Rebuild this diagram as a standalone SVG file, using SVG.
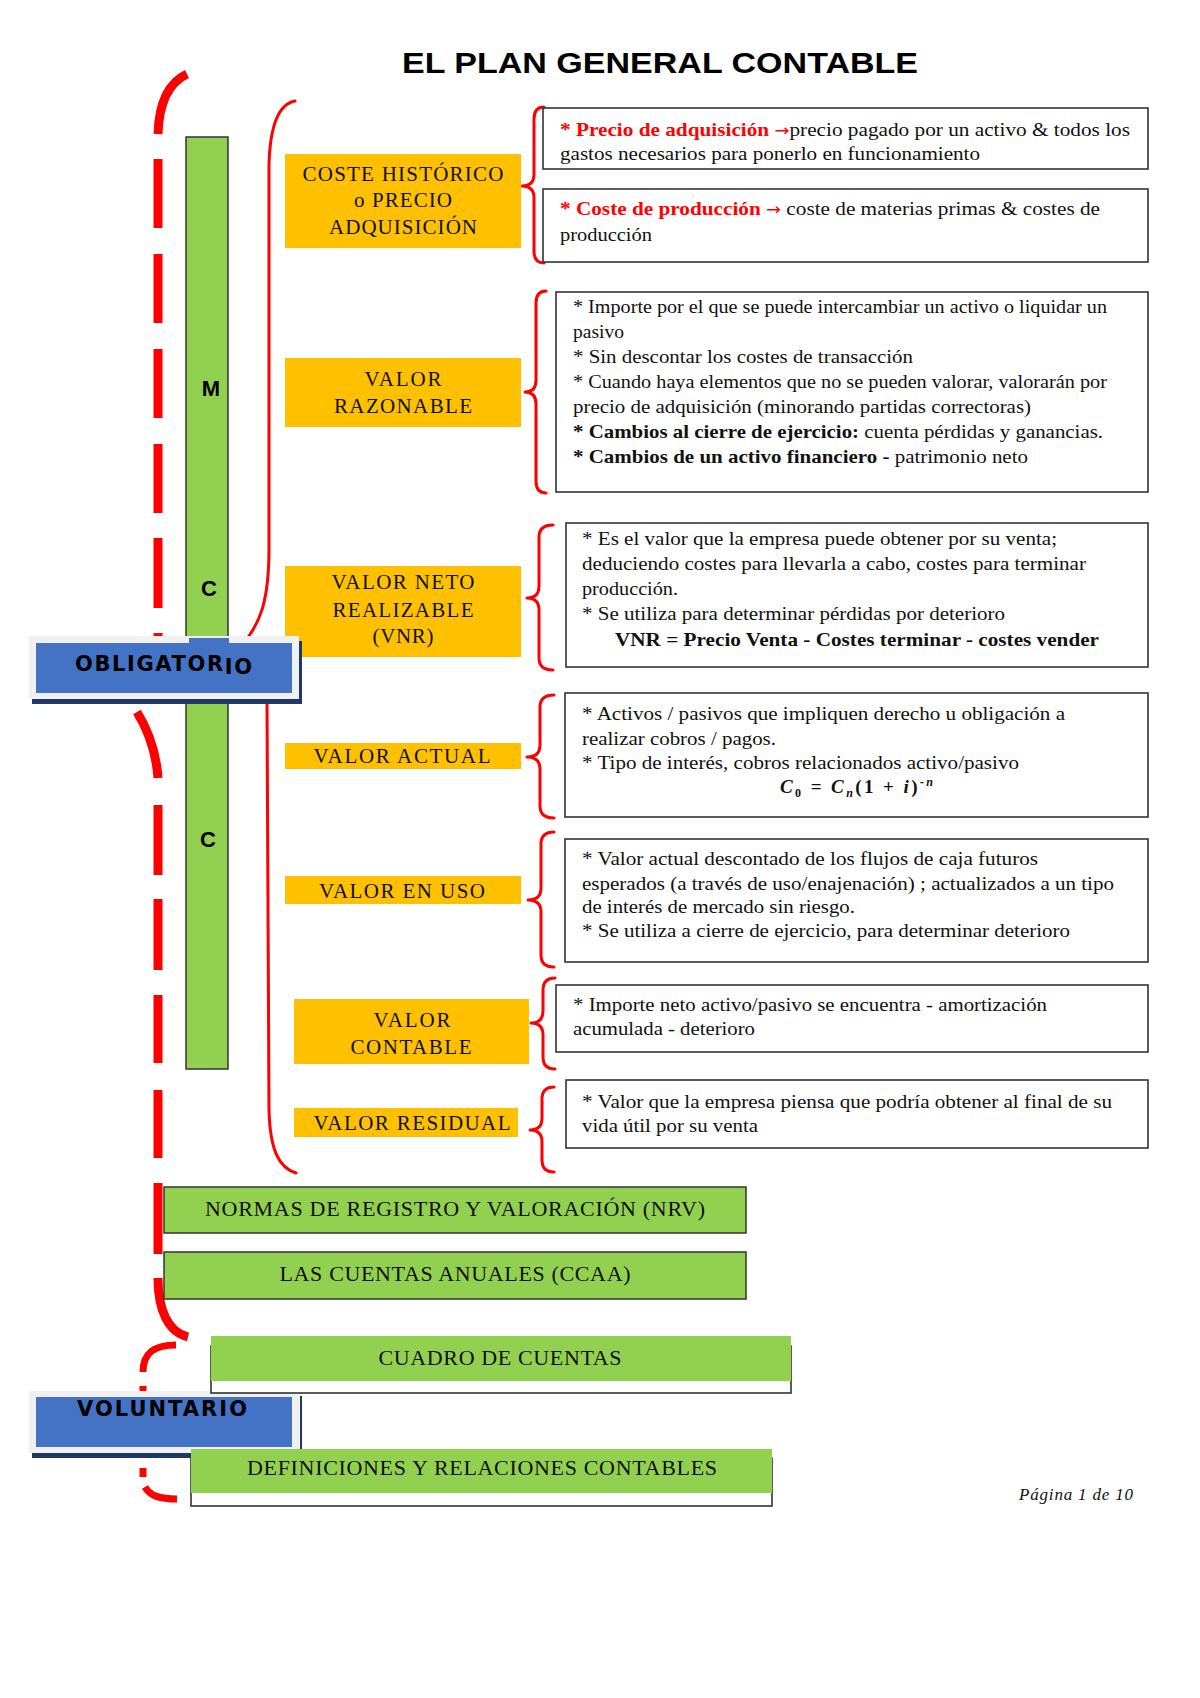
<svg xmlns="http://www.w3.org/2000/svg" width="1200" height="1698" viewBox="0 0 1200 1698">
<style>
.org{fill:#FFC000}
.grn{fill:#92D050;stroke:#333;stroke-width:1.5}
.grnf{fill:#92D050}
.box{fill:#fff;stroke:#333;stroke-width:1.6}
.brace{fill:none;stroke:#FF0000;stroke-width:3;stroke-linecap:round;stroke-linejoin:round}
.dash{fill:none;stroke:#FF0000;stroke-width:9}
.dash2{fill:none;stroke:#FF0000;stroke-width:7}
.ot{font-family:"Liberation Serif",serif;font-size:21px;fill:#111;text-anchor:middle}
.gt{font-family:"Liberation Serif",serif;font-size:22px;fill:#111;text-anchor:middle}
.bt{font-family:"Liberation Serif",serif;font-size:19px;fill:#111}
.b{font-weight:bold}
.red{fill:#FF0000}
.arr{font-family:"DejaVu Sans",sans-serif;font-size:16px}
.lbl{font-family:"DejaVu Sans",sans-serif;font-weight:bold;font-size:21px;fill:#000}
.let{font-family:"Liberation Sans",Arial,sans-serif;font-weight:bold;font-size:22px;fill:#000;text-anchor:middle}
</style>
<rect width="1200" height="1698" fill="#fff"/>
<text id="title" x="660" y="73" font-family="'Liberation Sans',Arial,sans-serif" font-weight="bold" font-size="29" text-anchor="middle" textLength="516" lengthAdjust="spacingAndGlyphs" fill="#000">EL PLAN GENERAL CONTABLE</text>

<g id="connectors">
  <path class="dash" d="M187,74 C170,82 159,100 158,134"/>
  <path class="dash" d="M158,159 V228 M158,254 V323 M158,349 V418 M158,444 V513 M158,538 V608 M158,633 V642"/>
  <path class="dash" d="M137,712 C148,730 156,750 158,778"/>
  <path class="dash" d="M158,805 V875 M158,899 V970 M158,995 V1063 M158,1090 V1158 M158,1183 V1254"/>
  <path class="dash" d="M158,1278 C158,1310 168,1332 188,1337"/>
  <path class="dash2" d="M176,1345 C155,1345 143,1352 143,1372"/>
  <path class="dash2" d="M143,1386 V1391 M143,1468 V1477"/>
  <path class="dash2" d="M145,1487 C150,1496 160,1499 177,1499"/>
  <path class="brace" d="M295,101 C279,104 270,125 269,165 L269,548 C269,600 261,625 239,648"/>
  <path class="brace" d="M239,648 C259,665 267,680 267,704 L269,1110 C270,1150 279,1168 296,1173"/>
</g>

<g id="bar-mcc">
  <rect class="grn" x="186" y="137" width="42" height="932"/>
  <text class="let" x="211" y="396">M</text>
  <text class="let" x="209" y="596">C</text>
  <text class="let" x="208" y="847">C</text>
</g>

<g id="right-braces">
  <path class="brace" d="M544,107 Q534,107 534,119 L534,174 Q534,186 522,186 Q534,186 534,198 L534,251 Q534,263 544,263"/>
  <path class="brace" d="M546,291 Q536,291 536,303 L536,380 Q536,392 525,392 Q536,392 536,404 L536,481 Q536,493 546,493"/>
  <path class="brace" d="M553,525 Q539,525 539,537 L539,586 Q539,598 527,598 Q539,598 539,610 L539,658 Q539,670 553,670"/>
  <path class="brace" d="M554,695 Q540,695 540,707 L540,745 Q540,757 527,757 Q540,757 540,769 L540,806 Q540,818 554,818"/>
  <path class="brace" d="M554,832 Q541,832 541,844 L541,888 Q541,900 528,900 Q541,900 541,912 L541,955 Q541,967 554,967"/>
  <path class="brace" d="M555,978 Q543,978 543,990 L543,1011 Q543,1023 531,1023 Q543,1023 543,1035 L543,1057 Q543,1069 555,1069"/>
  <path class="brace" d="M554,1087 Q542,1087 542,1099 L542,1118 Q542,1130 530,1130 Q542,1130 542,1142 L542,1160 Q542,1172 554,1172"/>
</g>

<g id="coste-historico">
  <rect class="org" x="285" y="154" width="236" height="94"/>
  <text class="ot" x="403" y="181" textLength="201">COSTE HISTÓRICO</text>
  <text class="ot" x="403" y="207" textLength="98">o PRECIO</text>
  <text class="ot" x="403" y="234" textLength="148">ADQUISICIÓN</text>
</g>
<g id="valor-razonable">
  <rect class="org" x="285" y="358" width="236" height="69"/>
  <text class="ot" x="403" y="386" textLength="77">VALOR</text>
  <text class="ot" x="403" y="413" textLength="138">RAZONABLE</text>
</g>
<g id="vnr">
  <rect class="org" x="285" y="566" width="236" height="91"/>
  <text class="ot" x="403" y="589" textLength="143">VALOR NETO</text>
  <text class="ot" x="403" y="617" textLength="141">REALIZABLE</text>
  <text class="ot" x="403" y="643" textLength="61">(VNR)</text>
</g>
<g id="valor-actual">
  <rect class="org" x="285" y="743" width="236" height="26"/>
  <text class="ot" x="402" y="763" textLength="177">VALOR ACTUAL</text>
</g>
<g id="valor-en-uso">
  <rect class="org" x="285" y="876" width="236" height="28"/>
  <text class="ot" x="402" y="898" textLength="166">VALOR EN USO</text>
</g>
<g id="valor-contable">
  <rect class="org" x="294" y="999" width="235" height="65"/>
  <text class="ot" x="412" y="1027" textLength="77">VALOR</text>
  <text class="ot" x="411" y="1054" textLength="121">CONTABLE</text>
</g>
<g id="valor-residual">
  <rect class="org" x="294" y="1108" width="224" height="29"/>
  <text class="ot" x="412" y="1130" textLength="197">VALOR RESIDUAL</text>
</g>

<g id="def-precio-adquisicion">
  <rect class="box" x="543" y="108" width="605" height="61"/>
  <text class="bt" x="560" y="136" textLength="570" lengthAdjust="spacingAndGlyphs"><tspan class="red b">* Precio de adquisición </tspan><tspan class="red arr">→</tspan><tspan>precio pagado por un activo &amp; todos los</tspan></text>
  <text class="bt" x="560" y="160" textLength="420" lengthAdjust="spacingAndGlyphs">gastos necesarios para ponerlo en funcionamiento</text>
</g>
<g id="def-coste-produccion">
  <rect class="box" x="543" y="189" width="605" height="73"/>
  <text class="bt" x="560" y="215" textLength="540" lengthAdjust="spacingAndGlyphs"><tspan class="red b">* Coste de producción </tspan><tspan class="red arr">→</tspan><tspan> coste de materias primas &amp; costes de</tspan></text>
  <text class="bt" x="560" y="241" textLength="92" lengthAdjust="spacingAndGlyphs">producción</text>
</g>
<g id="def-razonable">
  <rect class="box" x="556" y="292" width="592" height="200"/>
  <text class="bt" x="573" y="313" textLength="534" lengthAdjust="spacingAndGlyphs">* Importe por el que se puede intercambiar un activo o liquidar un</text>
  <text class="bt" x="573" y="338" textLength="51" lengthAdjust="spacingAndGlyphs">pasivo</text>
  <text class="bt" x="573" y="363" textLength="340" lengthAdjust="spacingAndGlyphs">* Sin descontar los costes de transacción</text>
  <text class="bt" x="573" y="388" textLength="534" lengthAdjust="spacingAndGlyphs">* Cuando haya elementos que no se pueden valorar, valorarán por</text>
  <text class="bt" x="573" y="413" textLength="458" lengthAdjust="spacingAndGlyphs">precio de adquisición (minorando partidas correctoras)</text>
  <text class="bt" x="573" y="438" textLength="530" lengthAdjust="spacingAndGlyphs"><tspan class="b">* Cambios al cierre de ejercicio:</tspan> cuenta pérdidas y ganancias.</text>
  <text class="bt" x="573" y="463" textLength="455" lengthAdjust="spacingAndGlyphs"><tspan class="b">* Cambios de un activo financiero -</tspan> patrimonio neto</text>
</g>
<g id="def-vnr">
  <rect class="box" x="566" y="523" width="582" height="144"/>
  <text class="bt" x="582" y="545" textLength="475" lengthAdjust="spacingAndGlyphs">* Es el valor que la empresa puede obtener por su venta;</text>
  <text class="bt" x="582" y="570" textLength="504" lengthAdjust="spacingAndGlyphs">deduciendo costes para llevarla a cabo, costes para terminar</text>
  <text class="bt" x="582" y="595" textLength="96" lengthAdjust="spacingAndGlyphs">producción.</text>
  <text class="bt" x="582" y="620" textLength="423" lengthAdjust="spacingAndGlyphs">* Se utiliza para determinar pérdidas por deterioro</text>
  <text class="bt b" x="615" y="646" textLength="484" lengthAdjust="spacingAndGlyphs">VNR = Precio Venta - Costes terminar - costes vender</text>
</g>
<g id="def-actual">
  <rect class="box" x="565" y="693" width="583" height="124"/>
  <text class="bt" x="582" y="720" textLength="483" lengthAdjust="spacingAndGlyphs">* Activos / pasivos que impliquen derecho u obligación a</text>
  <text class="bt" x="582" y="745" textLength="194" lengthAdjust="spacingAndGlyphs">realizar cobros / pagos.</text>
  <text class="bt" x="582" y="769" textLength="437" lengthAdjust="spacingAndGlyphs">* Tipo de interés, cobros relacionados activo/pasivo</text>
  <text class="bt b" x="780" y="793" font-size="20" textLength="153"><tspan font-style="italic">C</tspan><tspan font-size="12" dy="4">0</tspan><tspan dy="-4"> = </tspan><tspan font-style="italic">C</tspan><tspan font-size="12" dy="4" font-style="italic">n</tspan><tspan dy="-4">(1 + </tspan><tspan font-style="italic">i</tspan><tspan>)</tspan><tspan font-size="12" dy="-7" font-style="italic">-n</tspan></text>
</g>
<g id="def-en-uso">
  <rect class="box" x="565" y="839" width="583" height="123"/>
  <text class="bt" x="582" y="865" textLength="456" lengthAdjust="spacingAndGlyphs">* Valor actual descontado de los flujos de caja futuros</text>
  <text class="bt" x="582" y="890" textLength="532" lengthAdjust="spacingAndGlyphs">esperados (a través de uso/enajenación) ; actualizados a un tipo</text>
  <text class="bt" x="582" y="913" textLength="273" lengthAdjust="spacingAndGlyphs">de interés de mercado sin riesgo.</text>
  <text class="bt" x="582" y="937" textLength="488" lengthAdjust="spacingAndGlyphs">* Se utiliza a cierre de ejercicio, para determinar deterioro</text>
</g>
<g id="def-contable">
  <rect class="box" x="556" y="985" width="592" height="67"/>
  <text class="bt" x="573" y="1011" textLength="474" lengthAdjust="spacingAndGlyphs">* Importe neto activo/pasivo se encuentra - amortización</text>
  <text class="bt" x="573" y="1035" textLength="182" lengthAdjust="spacingAndGlyphs">acumulada - deterioro</text>
</g>
<g id="def-residual">
  <rect class="box" x="566" y="1080" width="582" height="68"/>
  <text class="bt" x="582" y="1108" textLength="530" lengthAdjust="spacingAndGlyphs">* Valor que la empresa piensa que podría obtener al final de su</text>
  <text class="bt" x="582" y="1132" textLength="176" lengthAdjust="spacingAndGlyphs">vida útil por su venta</text>
</g>

<g id="obligatorio">
  <rect x="32" y="641" width="270" height="63" fill="#203864"/>
  <rect x="29" y="636" width="270" height="63" fill="#F0F0F0"/>
  <rect x="36" y="643" width="256" height="50" fill="#4472C4"/>
  <rect x="189" y="638" width="40" height="6" fill="#4472C4"/>
  <text class="lbl" x="75" y="671" textLength="177">OBLIGATOR<tspan dy="3">IO</tspan></text>
</g>

<g id="normas">
  <rect class="grn" x="164" y="1187" width="582" height="46"/>
  <text class="gt" x="455" y="1216" textLength="500">NORMAS DE REGISTRO Y VALORACIÓN (NRV)</text>
</g>
<g id="cuentas-anuales">
  <rect class="grn" x="164" y="1252" width="582" height="47"/>
  <text class="gt" x="455" y="1281" textLength="351">LAS CUENTAS ANUALES (CCAA)</text>
</g>

<g id="voluntario">
  <rect x="32" y="1396" width="270" height="62" fill="#203864"/>
  <rect x="29" y="1391" width="271" height="62" fill="#F0F0F0"/>
  <rect x="36" y="1397" width="256" height="50" fill="#4472C4"/>
  <text class="lbl" x="77" y="1416" font-size="22" textLength="170">VOLUNTARIO</text>
</g>

<g id="cuadro-cuentas">
  <rect class="box" x="211" y="1346" width="580" height="47"/>
  <rect class="grnf" x="211" y="1336" width="580" height="45"/>
  <text class="gt" x="500" y="1365" textLength="243">CUADRO DE CUENTAS</text>
</g>
<g id="definiciones">
  <rect class="box" x="191" y="1458" width="581" height="48"/>
  <rect class="grnf" x="191" y="1449" width="581" height="44"/>
  <text class="gt" x="482" y="1475" textLength="470">DEFINICIONES Y RELACIONES CONTABLES</text>
</g>

<text id="pagina" x="1019" y="1500" font-family="'Liberation Serif',serif" font-style="italic" font-size="17" textLength="114" fill="#111">Página 1 de 10</text>
</svg>
